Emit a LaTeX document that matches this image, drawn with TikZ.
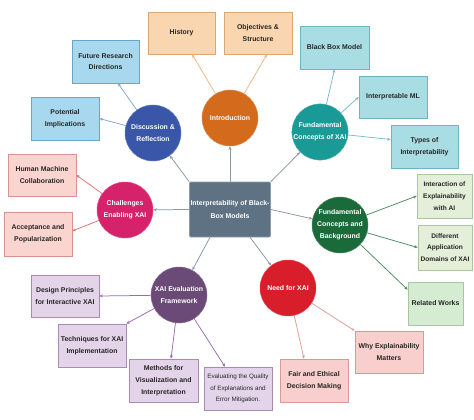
\documentclass[tikz,border=0pt]{standalone}
\usepackage{fontspec}
\setmainfont{Liberation Sans}
\usetikzlibrary{arrows.meta,calc}
\definecolor{cbox}{HTML}{5F7284}
\definecolor{cboxd}{HTML}{8A9AAB}
\definecolor{carr}{HTML}{8797AA}
\definecolor{cintro}{HTML}{D46A1C}
\definecolor{cdisc}{HTML}{3A56A8}
\definecolor{cfxai}{HTML}{1A9A96}
\definecolor{cfbg}{HTML}{1B6B3A}
\definecolor{cneed}{HTML}{D81E2A}
\definecolor{ceval}{HTML}{6B4A78}
\definecolor{cchal}{HTML}{D6226A}
\definecolor{fintro}{HTML}{F9D5B0}\definecolor{dintro}{HTML}{D9A873}\definecolor{aintro}{HTML}{E8B887}
\definecolor{fdisc}{HTML}{A8D8EE}\definecolor{ddisc}{HTML}{6AA6C8}\definecolor{adisc}{HTML}{7AAED0}
\definecolor{ffxai}{HTML}{A9DDE4}\definecolor{dfxai}{HTML}{6DB5C0}\definecolor{afxai}{HTML}{7CBCC8}
\definecolor{ffbg}{HTML}{E3EFD9}\definecolor{dfbg}{HTML}{A9C79A}\definecolor{afbg}{HTML}{4E8A62}
\definecolor{frel}{HTML}{D5EBD2}
\definecolor{fneed}{HTML}{F8CFCC}\definecolor{dneed}{HTML}{D89A96}\definecolor{aneed}{HTML}{E49A98}
\definecolor{feval}{HTML}{E3D4EA}\definecolor{deval}{HTML}{A98BB5}\definecolor{aeval}{HTML}{9C6CA8}
\definecolor{fchal}{HTML}{FAD4CF}\definecolor{dchal}{HTML}{D9938C}\definecolor{achal}{HTML}{D9746E}
\tikzset{
  leaf/.style={draw, line width=0.6pt, minimum width=68pt, minimum height=43pt, inner sep=1pt,
    align=center, font=\fontsize{6.9}{11.8}\selectfont\bfseries, text=black!85},
  hub/.style={circle, minimum size=56pt, inner sep=0pt, align=center, text=white,
    font=\fontsize{6.9}{11.8}\selectfont\bfseries, line width=0.5pt},
  arr/.style={-{Stealth[length=3.5pt,width=3pt]}, line width=0.75pt},
}
\begin{document}
\begin{tikzpicture}[x=1pt,y=-1pt]
\useasboundingbox (0,0) rectangle (474,420);
\fill[white] (0,0) rectangle (474,420);

% center
\node[draw=cboxd, fill=cbox, line width=0.6pt, rounded corners=1pt, minimum width=78pt, minimum height=55pt,
  inner sep=1pt, align=center, text=white, font=\fontsize{6.9}{12.5}\selectfont\bfseries]
  (center) at (230,209.5) {Interpretability of Black-\\Box Models};

% hubs
\node[hub, fill=cintro, draw=cintro!80!white] (intro) at (230,118) {Introduction};
\node[hub, fill=cdisc, draw=cdisc!80!white] (disc) at (153,133) {Discussion \&\\Reflection};
\node[hub, fill=cfxai, draw=cfxai!80!white] (fxai) at (320,132) {Fundamental\\Concepts of XAI};
\node[hub, fill=cfbg, draw=cfbg!80!white] (fbg) at (340,225) {Fundamental\\Concepts and\\Background};
\node[hub, fill=cneed, draw=cneed!80!white] (need) at (288,288) {Need for XAI};
\node[hub, fill=ceval, draw=ceval!80!white] (eval) at (179,295) {XAI Evaluation\\Framework};
\node[hub, fill=cchal, draw=cchal!80!white] (chal) at (125,210) {Challenges\\Enabling XAI};

% leaves
\node[leaf, fill=fintro, draw=dintro, minimum width=67pt, minimum height=42pt] (hist) at (181.5,33) {History};
\node[leaf, fill=fintro, draw=dintro, minimum height=42pt] (obj) at (258,33) {Objectives \&\\Structure};
\node[leaf, fill=fdisc, draw=ddisc, minimum width=67pt] (future) at (105.5,61.5) {Future Research\\Directions};
\node[leaf, fill=fdisc, draw=ddisc] (potential) at (65,118.5) {Potential\\Implications};
\node[leaf, fill=ffxai, draw=dfxai, minimum width=69pt] (blackbox) at (334.5,47.5) {Black Box Model};
\node[leaf, fill=ffxai, draw=dfxai, minimum height=42pt] (interp) at (393,97) {Interpretable ML};
\node[leaf, fill=ffxai, draw=dfxai, minimum width=67pt] (types) at (424.5,146.5) {Types of\\Interpretability};
\node[leaf, fill=ffbg, draw=dfbg, minimum width=55pt, minimum height=44pt, font=\fontsize{6.6}{11.8}\selectfont\bfseries] (interaction) at (444.5,196) {Interaction of\\Explainability\\with AI};
\node[leaf, fill=ffbg, draw=dfbg, minimum width=54pt, minimum height=45pt, font=\fontsize{6.6}{11.8}\selectfont\bfseries] (different) at (445,247.5) {Different\\Application\\Domains of XAI};
\node[leaf, fill=frel, draw=dfbg, minimum width=55pt] (related) at (435.5,303.5) {Related Works};
\node[leaf, fill=fneed, draw=dneed, minimum height=42pt] (why) at (389,352) {Why Explainability\\Matters};
\node[leaf, fill=fneed, draw=dneed] (fair) at (314,380.5) {Fair and Ethical\\Decision Making};
\node[leaf, fill=feval, draw=deval, minimum height=42pt] (design) at (65,296) {Design Principles\\for Interactive XAI};
\node[leaf, fill=feval, draw=deval] (tech) at (92,345.5) {Techniques for XAI\\Implementation};
\node[leaf, fill=feval, draw=deval, minimum width=69pt] (methods) at (163.5,380.5) {Methods for\\Visualization and\\Interpretation};
\node[leaf, fill=feval, draw=deval, font=\fontsize{6.3}{11.5}\selectfont] (evaluating) at (238,388.5) {Evaluating the Quality\\of Explanations and\\Error Mitigation.};
\node[leaf, fill=fchal, draw=dchal, minimum height=42pt] (human) at (42,175) {Human Machine\\Collaboration};
\node[leaf, fill=fchal, draw=dchal, minimum height=44pt] (accept) at (38,234) {Acceptance and\\Popularization};

% center arrows
\draw[arr, carr] (center) -- (intro);
\draw[arr, carr] (center.north west) -- (disc);
\draw[arr, carr] (center.north east) -- (fxai);
\draw[arr, carr] (center.west) -- (chal);
\draw[arr, carr] (center.east) -- (fbg);
\draw[arr, carr] ($(center.south)+(20,0)$) -- (need);
\draw[arr, carr] ($(center.south)+(-20,0)$) -- (eval);

% hub arrows
\draw[arr, aintro] (intro) -- ($(hist.south)+(10.5,0)$);
\draw[arr, aintro] (intro) -- ($(obj.south)+(9,0)$);
\draw[arr, adisc] (disc) -- ($(future.south)+(12.5,0)$);
\draw[arr, adisc] (disc) -- (potential.east);
\draw[arr, afxai] (fxai) -- (blackbox.south);
\draw[arr, afxai] (fxai) -- (interp.west);
\draw[arr, afxai] (fxai) -- ($(types.west)+(0,-7)$);
\draw[arr, afbg] (fbg) -- (interaction.west);
\draw[arr, afbg] (fbg) -- (different.west);
\draw[arr, afbg] (fbg) -- ($(related.north west)+(0,8)$);
\draw[arr, aneed] (need) -- (why.north west);
\draw[arr, aneed] (need) -- ($(fair.north)+(-10,0)$);
\draw[arr, aeval] (eval) -- (design.east);
\draw[arr, aeval] (eval) -- (tech.north east);
\draw[arr, aeval] (eval) -- ($(methods.north)+(7.5,0)$);
\draw[arr, aeval] (eval) -- ($(evaluating.north)+(-13,0)$);
\draw[arr, achal] (chal) -- (human.east);
\draw[arr, achal] (chal) -- ($(accept.east)+(0,-3)$);
\end{tikzpicture}
\end{document}
